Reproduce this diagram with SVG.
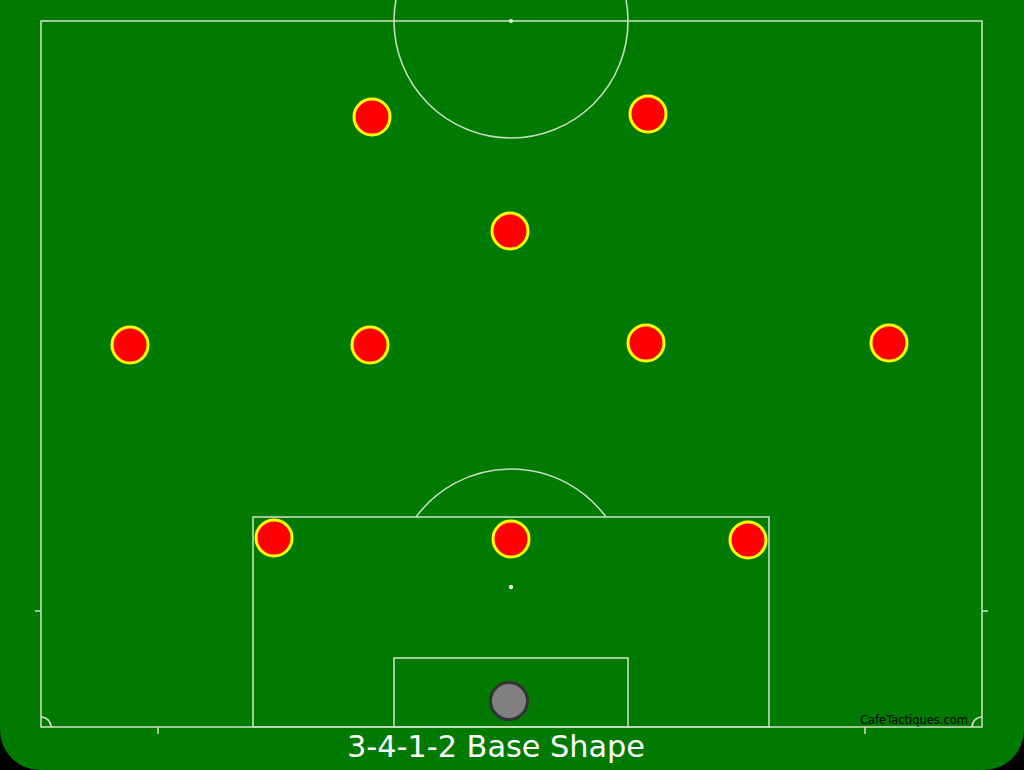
<svg xmlns="http://www.w3.org/2000/svg" width="1024" height="770" viewBox="0 0 1024 770">
<style>
.line{fill:none;stroke:#c6dcc0;stroke-width:1.6}
.spot{fill:#e8f0e4}
.player{fill:#ff0000;stroke:#ffff00;stroke-width:3}
.keeper{fill:#808080;stroke:#333333;stroke-width:3}
</style>
<rect x="0" y="0" width="1024" height="770" fill="#000000"/>
<path d="M0 0 H1024 V730 A40 40 0 0 1 984 770 H40 A40 40 0 0 1 0 730 Z" fill="#007a00"/>
<g id="pitch">
<rect class="line" x="41" y="21" width="941" height="706"/>
<circle class="line" cx="511" cy="21" r="117"/>
<circle class="spot" cx="511" cy="21" r="2"/>
<rect class="line" x="253" y="517" width="516" height="210"/>
<rect class="line" x="394" y="658" width="234" height="69"/>
<circle class="spot" cx="511" cy="587" r="2.2"/>
<path class="line" d="M416 517 A118 118 0 0 1 606 517"/>
<path class="line" d="M41 717 A10 10 0 0 1 51 727"/>
<path class="line" d="M972 727 A10 10 0 0 1 982 717"/>
<line class="line" x1="35" y1="611" x2="41" y2="611"/>
<line class="line" x1="982" y1="611" x2="988" y2="611"/>
<line class="line" x1="158" y1="727" x2="158" y2="734"/>
<line class="line" x1="865" y1="727" x2="865" y2="734"/>
</g>
<g id="connectors"></g>
<g id="p1"><circle class="player" cx="372" cy="117" r="18"/></g>
<g id="p2"><circle class="player" cx="648" cy="114" r="18"/></g>
<g id="p3"><circle class="player" cx="510" cy="231" r="18"/></g>
<g id="p4"><circle class="player" cx="130" cy="345" r="18"/></g>
<g id="p5"><circle class="player" cx="370" cy="345" r="18"/></g>
<g id="p6"><circle class="player" cx="646" cy="343" r="18"/></g>
<g id="p7"><circle class="player" cx="889" cy="343" r="18"/></g>
<g id="p8"><circle class="player" cx="274" cy="538" r="18"/></g>
<g id="p9"><circle class="player" cx="511" cy="539" r="18"/></g>
<g id="p10"><circle class="player" cx="748" cy="540" r="18"/></g>
<g id="gk"><circle class="keeper" cx="509" cy="701" r="18.5"/></g>
<text x="860" y="724" font-family="DejaVu Sans, Verdana, sans-serif" font-size="11.5" textLength="108" lengthAdjust="spacingAndGlyphs" fill="#000000">CafeTactiques.com</text>
<text x="347" y="757" font-family="DejaVu Sans, Verdana, sans-serif" font-size="30" textLength="298" lengthAdjust="spacingAndGlyphs" fill="#ffffff">3-4-1-2 Base Shape</text>
</svg>
